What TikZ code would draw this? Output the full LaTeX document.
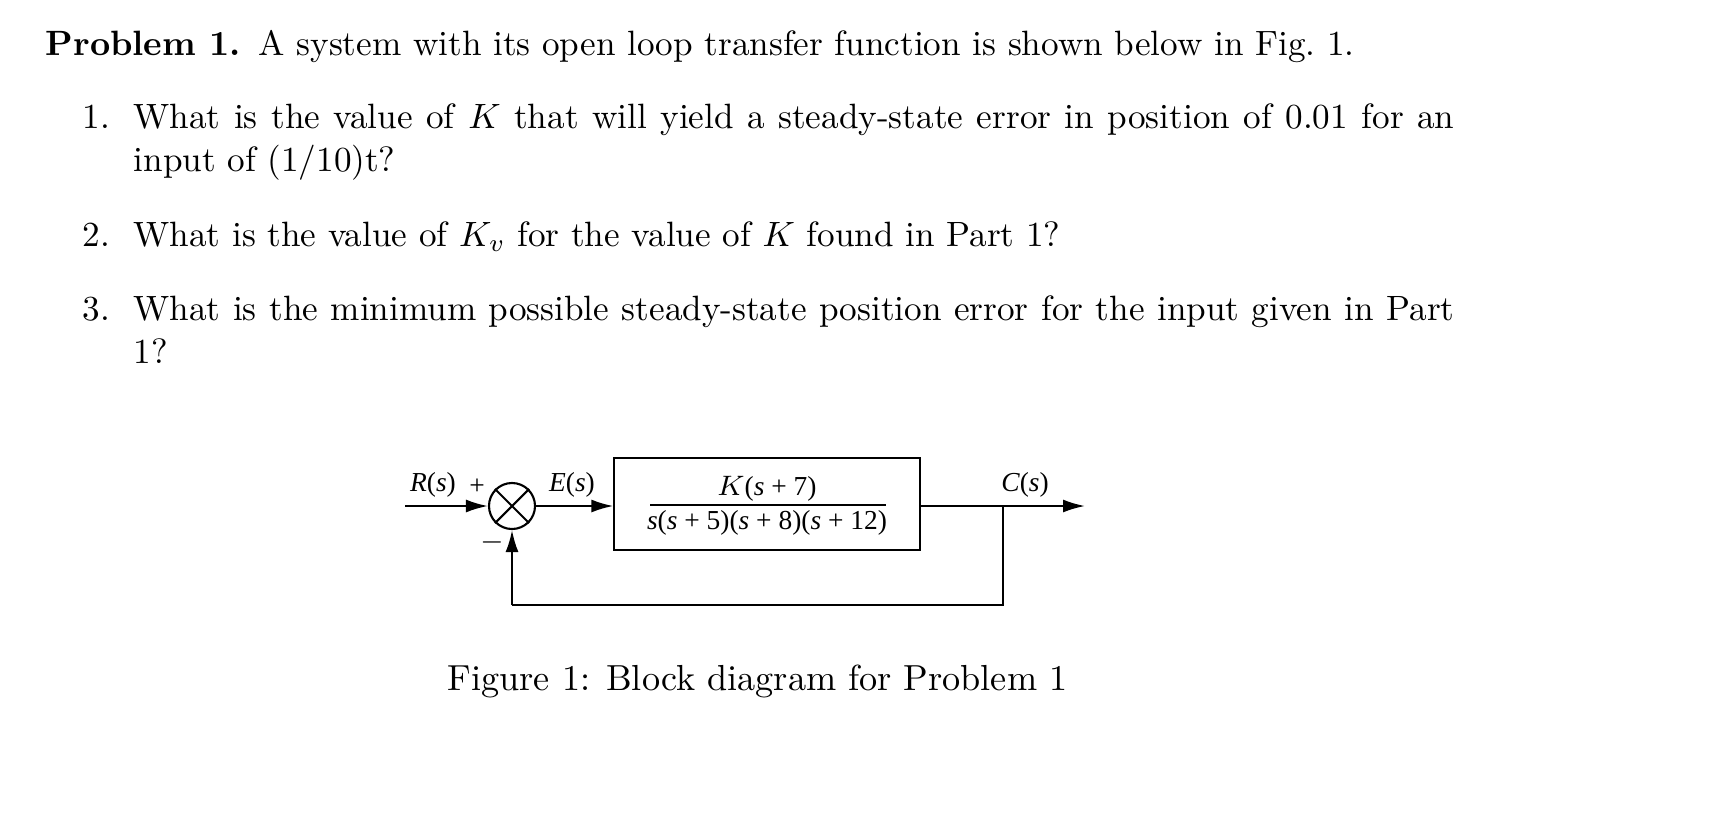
\documentclass[tikz,border=0pt]{standalone}
\usepackage{fontspec}
\newfontfamily\tnr{Liberation Serif}
\usetikzlibrary{arrows.meta, positioning, calc}

\begin{document}
\begin{tikzpicture}[
    x=0.01cm, y=-0.01cm,
    txt/.style={anchor=base west, inner sep=0pt, font=\fontsize{10}{12.5}\selectfont},
    item/.style={txt, text width=13.2cm, align=justify},
    lbl/.style={font=\tnr\fontsize{7.8}{9.4}\selectfont, inner sep=0pt},
    sig/.style={-{Latex[length=2.2mm, width=1.3mm]}, semithick},
    wire/.style={semithick}
]
% problem text
\node[txt] (head) at (45,55) {\textbf{Problem 1.}\enspace A system with its open loop transfer function is shown below in Fig.~1.};
\node[txt] (n1) at (82,128) {1.};
\node[item] (q1) at (133,128) {What is the value of $K$ that will yield a steady-state error in position of 0.01 for an\linebreak input of (1/10)t?};
\node[txt] (n2) at (82,246) {2.};
\node[txt] (q2) at (133,246) {What is the value of $K_v$ for the value of $K$ found in Part 1?};
\node[txt] (n3) at (82,320) {3.};
\node[item] (q3) at (133,320) {What is the minimum possible steady-state position error for the input given in Part\linebreak 1?};

% block diagram
\coordinate (rin) at (405,506);
\node[draw, semithick, circle, minimum size=0.46cm, inner sep=0pt] (sum) at (512,506) {};
\draw[semithick] (sum.north west) -- (sum.south east) (sum.north east) -- (sum.south west);
\node[draw, semithick, minimum width=3.05cm, minimum height=0.92cm] (plant) at (767,504) {};
\node[lbl] (num) at (767,489) {$K$(\textit{s} + 7)};
\node[lbl] (den) at (767,523) {\textit{s}(\textit{s} + 5)(\textit{s} + 8)(\textit{s} + 12)};
\draw[semithick] (650,505) -- (886,505);
\coordinate (cout) at (1085,506);
\coordinate (tap) at (1003,506);
\coordinate (fb) at (1003,605);
\coordinate (fbl) at (512,605);

\node[lbl] (rs) at (433,485) {\textit{R}(\textit{s})};
\node[lbl] (plus) at (477,487) {+};
\node[lbl] (minus) at (492,542) {$-$};
\node[lbl] (es) at (572,485) {\textit{E}(\textit{s})};
\node[lbl] (cs) at (1025,485) {\textit{C}(\textit{s})};

\draw[sig] (rin) -- (sum.west);
\draw[sig] (sum.east) -- (sum.east -| plant.west);
\draw[sig] (plant.east |- cout) -- (cout);
\draw[wire] (tap) -- (fb) -- (fbl);
\draw[sig] (fbl) -- (sum.south);

% caption
\node[txt, font=\fontsize{10.3}{12.5}\selectfont] (cap) at (447,690) {Figure 1: Block diagram for Problem 1};

\pgfresetboundingbox
\useasboundingbox (0,0) rectangle (1731,824);
\end{tikzpicture}
\end{document}
